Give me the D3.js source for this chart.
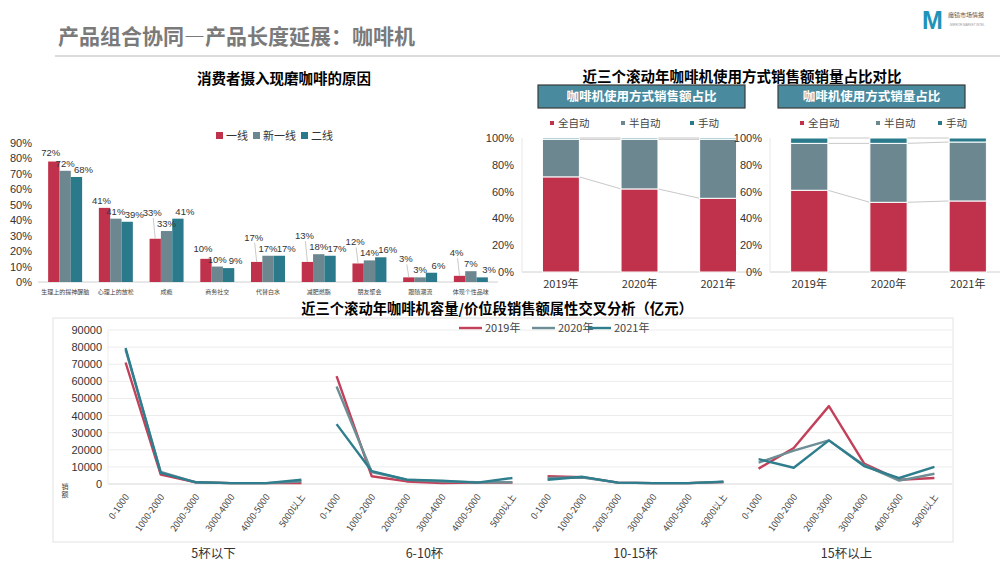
<!doctype html>
<html lang="zh">

<head>
    <meta charset="utf-8">
    <title>咖啡机 - 产品长度延展</title>
    <script src="https://cdnjs.cloudflare.com/ajax/libs/d3/7.8.5/d3.min.js"></script>
    <style>
        body {
            margin: 0;
            background: #ffffff;
        }

        svg {
            font-family: "Liberation Sans", "Noto Sans CJK SC", sans-serif;
        }

        .cjk {
            font-family: "Noto Sans CJK SC", sans-serif;
        }
    </style>
</head>

<body>
    <svg></svg>
    <script>
        var width = 1000;
        var height = 563;

        var red = "#c0324b";
        var gray = "#6c8790";
        var teal = "#2b7a8c";

        // ---- left chart: reasons ----
        var reasons = ["生理上的提神醒脑", "心理上的放松", "成瘾", "商务社交", "代替白水", "减肥燃脂", "朋友聚会", "跟随潮流", "体现个性品味"];
        var tiers = ["一线", "新一线", "二线"];
        var tier1 = [78, 48, 28, 15, 13, 13, 12, 3, 4];
        var tierNew1 = [72, 41, 33, 10, 17, 18, 14, 3, 7];
        var tier2 = [68, 39, 41, 9, 17, 17, 16, 6, 3];
        var labels1 = ["72%", "41%", "33%", "10%", "17%", "13%", "12%", "3%", "4%"];
        var labelsNew1 = ["72%", "41%", "33%", "10%", "17%", "18%", "14%", "3%", "7%"];
        var labels2 = ["68%", "39%", "41%", "9%", "17%", "17%", "16%", "6%", "3%"];
        var reasonTicks = [0, 10, 20, 30, 40, 50, 60, 70, 80, 90];

        // ---- right charts: usage share ----
        var years = ["2019年", "2020年", "2021年"];
        var usage = ["全自动", "半自动", "手动"];
        var salesAuto = [71, 62, 55];
        var salesSemi = [28, 37, 44];
        var salesManual = [1, 1, 1];
        var volAuto = [61, 52, 53];
        var volSemi = [35, 44, 44];
        var volManual = [4, 4, 3];
        var shareTicks = [0, 20, 40, 60, 80, 100];

        // ---- bottom chart: capacity x price band ----
        var capacities = ["5杯以下", "6-10杯", "10-15杯", "15杯以上"];
        var priceBands = ["0-1000", "1000-2000", "2000-3000", "3000-4000", "4000-5000", "5000以上"];
        var lineYears = ["2019年", "2020年", "2021年"];
        var sales2019 = [[71000, 5500, 1000, 500, 500, 500], [63000, 4500, 1500, 500, 800, 800], [4500, 4000, 800, 500, 500, 1200], [9000, 21000, 45500, 12000, 2500, 3500]];
        var sales2020 = [[78500, 7000, 1000, 500, 500, 1500], [57000, 7000, 2500, 1500, 1000, 1000], [3500, 3800, 800, 500, 500, 1200], [12500, 19500, 25500, 11000, 2000, 6000]];
        var sales2021 = [[79500, 6500, 1000, 500, 500, 2500], [35000, 7500, 2500, 2000, 800, 3500], [2500, 4200, 800, 500, 500, 1400], [14500, 9500, 25500, 10500, 3500, 10000]];
        var salesTicks = d3.range(0, 90001, 10000);

        var svg = d3.select("svg").attr("width", width).attr("height", height);

        // page title + rule
        svg.append("text")
            .attr("class", "cjk")
            .attr("x", 58).attr("y", 44)
            .attr("font-size", "21px").attr("font-weight", "bold")
            .attr("fill", "#7a7a7a")
            .text("产品组合协同—产品长度延展：咖啡机");
        svg.append("line")
            .attr("x1", 55).attr("x2", 1000).attr("y1", 56).attr("y2", 56)
            .attr("stroke", "#dcdcdc").attr("stroke-width", 2);

        // logo
        svg.append("text")
            .attr("x", 922).attr("y", 29)
            .attr("font-size", "25px").attr("font-weight", "bold")
            .attr("fill", "#1f93b8")
            .text("M");
        svg.append("text")
            .attr("class", "cjk")
            .attr("x", 948).attr("y", 17)
            .attr("font-size", "6px").attr("fill", "#555")
            .text("魔镜市场情报");
        svg.append("text")
            .attr("x", 950).attr("y", 26)
            .attr("font-size", "3px").attr("fill", "#999")
            .text("MIRROR MARKET INTEL");

        /* ================= left grouped bars ================= */
        svg.append("text")
            .attr("class", "cjk")
            .attr("x", 284).attr("y", 84)
            .attr("text-anchor", "middle")
            .attr("font-size", "14.5px").attr("font-weight", "bold")
            .text("消费者摄入现磨咖啡的原因");

        var x0 = d3.scaleBand().domain(reasons).range([38, 498]).paddingInner(0.33).paddingOuter(0.2);
        var x1 = d3.scaleBand().domain(tiers).range([0, x0.bandwidth()]);
        var yR = d3.scaleLinear().domain([0, 90]).range([282, 143]);
        var tierColor = d3.scaleOrdinal().domain(tiers).range([red, gray, teal]);

        var reasonRows = reasons.map(function (r, i) {
            var vals = [
                { tier: tiers[0], v: tier1[i], label: labels1[i] },
                { tier: tiers[1], v: tierNew1[i], label: labelsNew1[i] },
                { tier: tiers[2], v: tier2[i], label: labels2[i] }
            ];
            // label heights: above the bar, red one lifted clear of the gray one
            vals.forEach(function (d) { d.ly = yR(d.v) - 4; });
            if (vals[0].ly > vals[1].ly - 11) vals[0].ly = vals[1].ly - 11;
            return { reason: r, vals: vals };
        });

        var yAxisR = svg.append("g")
            .attr("transform", "translate(36,0)")
            .call(d3.axisLeft(yR).tickValues(reasonTicks).tickSize(0).tickPadding(4)
                .tickFormat(function (d) { return d + "%"; }));
        yAxisR.select(".domain").remove();
        yAxisR.selectAll("text").attr("font-size", "11px").attr("fill", "#333")
            .attr("font-family", "Liberation Sans, sans-serif");

        svg.append("line")
            .attr("x1", 38).attr("x2", 498).attr("y1", yR(0)).attr("y2", yR(0))
            .attr("stroke", "#d0d0d0");

        var groups = svg.selectAll("g.reason")
            .data(reasonRows)
            .enter()
            .append("g")
            .attr("class", "reason")
            .attr("transform", function (d) { return "translate(" + x0(d.reason) + ",0)"; });

        groups.selectAll("rect")
            .data(function (d) { return d.vals; })
            .enter()
            .append("rect")
            .attr("x", function (d) { return x1(d.tier); })
            .attr("y", function (d) { return yR(d.v); })
            .attr("width", x1.bandwidth())
            .attr("height", function (d) { return yR(0) - yR(d.v); })
            .attr("fill", function (d) { return tierColor(d.tier); });

        // thin leader line where the red label was lifted
        groups.selectAll("line.lead")
            .data(function (d) { return d.vals.filter(function (v) { return v.tier === tiers[0] && yR(v.v) - v.ly > 10; }); })
            .enter()
            .append("line")
            .attr("class", "lead")
            .attr("x1", function (d) { return x1(d.tier) + x1.bandwidth() / 2 - 2; })
            .attr("x2", function (d) { return x1(d.tier) + x1.bandwidth() / 2; })
            .attr("y1", function (d) { return d.ly + 2; })
            .attr("y2", function (d) { return yR(d.v); })
            .attr("stroke", "#bbb").attr("stroke-width", 0.8);

        var labelShift = { "一线": -3, "新一线": 0, "二线": 7 };
        groups.selectAll("text.val")
            .data(function (d) { return d.vals; })
            .enter()
            .append("text")
            .attr("class", "val")
            .attr("x", function (d) { return x1(d.tier) + x1.bandwidth() / 2 + labelShift[d.tier]; })
            .attr("y", function (d) { return d.ly; })
            .attr("text-anchor", "middle")
            .attr("font-size", "9.5px")
            .attr("fill", "#333")
            .text(function (d) { return d.label; });

        svg.selectAll("text.cat")
            .data(reasons)
            .enter()
            .append("text")
            .attr("class", "cat cjk")
            .attr("x", function (d) { return x0(d) + x0.bandwidth() / 2; })
            .attr("y", 294)
            .attr("text-anchor", "middle")
            .attr("font-size", "6px")
            .attr("fill", "#444")
            .text(function (d) { return d; });

        // legend
        var legL = svg.selectAll("g.legL")
            .data(tiers)
            .enter()
            .append("g")
            .attr("class", "legL")
            .attr("transform", function (d, i) { return "translate(" + [216, 253, 301][i] + ",130)"; });
        legL.append("rect").attr("width", 7).attr("height", 7).attr("y", 2)
            .attr("fill", function (d) { return tierColor(d); });
        legL.append("text").attr("class", "cjk").attr("x", 10).attr("y", 9.5)
            .attr("font-size", "11px").attr("fill", "#333")
            .text(function (d) { return d; });

        /* ================= right stacked bars ================= */
        svg.append("text")
            .attr("class", "cjk")
            .attr("x", 742).attr("y", 82)
            .attr("text-anchor", "middle")
            .attr("font-size", "14.5px").attr("font-weight", "bold")
            .text("近三个滚动年咖啡机使用方式销售额销量占比对比");

        var usageColor = d3.scaleOrdinal().domain(usage).range([red, gray, teal]);

        function drawStack(title, box, range, labelX, legX, auto, semi, manual) {
            svg.append("rect")
                .attr("x", box[0]).attr("y", 85)
                .attr("width", box[1] - box[0]).attr("height", 23)
                .attr("fill", "#4a8a9e").attr("stroke", "#3a3a3a").attr("stroke-width", 1.2);
            svg.append("text")
                .attr("class", "cjk")
                .attr("x", (box[0] + box[1]) / 2).attr("y", 101)
                .attr("text-anchor", "middle")
                .attr("font-size", "12.5px").attr("font-weight", "bold")
                .attr("fill", "#ffffff")
                .text(title);

            var rows = years.map(function (y, i) {
                return { year: y, "全自动": auto[i], "半自动": semi[i], "手动": manual[i] };
            });
            var series = d3.stack().keys(usage)(rows);

            var x = d3.scaleBand().domain(years).range(range).paddingInner(0.53).paddingOuter(0.26);
            var y = d3.scaleLinear().domain([0, 100]).range([272, 138]);

            var ax = svg.append("g")
                .attr("transform", "translate(" + labelX + ",0)")
                .call(d3.axisLeft(y).tickValues(shareTicks).tickSize(0).tickPadding(0)
                    .tickFormat(function (d) { return d + "%"; }));
            ax.select(".domain").remove();
            ax.selectAll("text").attr("font-size", "11px").attr("fill", "#333");

            svg.append("line")
                .attr("x1", range[0]).attr("x2", range[1]).attr("y1", y(0)).attr("y2", y(0))
                .attr("stroke", "#d0d0d0");
            svg.append("line")
                .attr("x1", range[0]).attr("x2", range[0]).attr("y1", y(0)).attr("y2", y(100))
                .attr("stroke", "#e6e6e6");

            // series lines between bars
            series.forEach(function (s) {
                for (var i = 0; i < years.length - 1; i++) {
                    svg.append("line")
                        .attr("x1", x(years[i]) + x.bandwidth())
                        .attr("x2", x(years[i + 1]))
                        .attr("y1", y(s[i][1]))
                        .attr("y2", y(s[i + 1][1]))
                        .attr("stroke", "#c8c8c8").attr("stroke-width", 1);
                }
            });

            svg.append("g")
                .selectAll("g")
                .data(series)
                .enter()
                .append("g")
                .attr("fill", function (d) { return usageColor(d.key); })
                .selectAll("rect")
                .data(function (d) { return d; })
                .enter()
                .append("rect")
                .attr("x", function (d) { return x(d.data.year); })
                .attr("y", function (d) { return y(d[1]); })
                .attr("width", x.bandwidth())
                .attr("height", function (d) { return y(d[0]) - y(d[1]); })
                .attr("stroke", "#ffffff").attr("stroke-width", 1);

            svg.selectAll(null)
                .data(years)
                .enter()
                .append("text")
                .attr("class", "cjk")
                .attr("x", function (d) { return x(d) + x.bandwidth() / 2; })
                .attr("y", 288)
                .attr("text-anchor", "middle")
                .attr("font-size", "11px").attr("fill", "#333")
                .text(function (d) { return d; });

            var leg = svg.selectAll(null)
                .data(usage)
                .enter()
                .append("g")
                .attr("transform", function (d, i) { return "translate(" + legX[i] + ",118)"; });
            leg.append("rect").attr("width", 4).attr("height", 4).attr("y", 3)
                .attr("fill", function (d) { return usageColor(d); });
            leg.append("text").attr("class", "cjk").attr("x", 8).attr("y", 9)
                .attr("font-size", "10.5px").attr("fill", "#444")
                .text(function (d) { return d; });
        }

        drawStack("咖啡机使用方式销售额占比", [538, 745], [522, 757], 514, [550, 621, 690], salesAuto, salesSemi, salesManual);
        drawStack("咖啡机使用方式销量占比", [778, 965], [770, 1007], 762, [800, 876, 938], volAuto, volSemi, volManual);

        /* ================= bottom line chart ================= */
        svg.append("text")
            .attr("class", "cjk")
            .attr("x", 497).attr("y", 314)
            .attr("text-anchor", "middle")
            .attr("font-size", "14.3px").attr("font-weight", "bold")
            .text("近三个滚动年咖啡机容量/价位段销售额属性交叉分析（亿元）");

        svg.append("rect")
            .attr("x", 53).attr("y", 318).attr("width", 900).attr("height", 224)
            .attr("fill", "none").attr("stroke", "#e2e2e2");

        var keys = [];
        capacities.forEach(function (c) {
            priceBands.forEach(function (p) { keys.push(c + "|" + p); });
        });
        var xL = d3.scalePoint().domain(keys).range([108, 952]).padding(0.5);
        var yL = d3.scaleLinear().domain([0, 90000]).range([484, 330]);
        var lineColor = d3.scaleOrdinal().domain(lineYears).range(["#c3405a", "#6d8e95", "#2e7e8d"]);

        svg.append("g")
            .selectAll("line")
            .data(salesTicks)
            .enter()
            .append("line")
            .attr("x1", 108).attr("x2", 952)
            .attr("y1", function (d) { return yL(d); })
            .attr("y2", function (d) { return yL(d); })
            .attr("stroke", function (d) { return d === 0 ? "#d6d6d6" : "#ececec"; });
        svg.append("line")
            .attr("x1", 108).attr("x2", 108).attr("y1", yL(0)).attr("y2", yL(90000))
            .attr("stroke", "#ececec");

        var axL = svg.append("g")
            .attr("transform", "translate(102,0)")
            .call(d3.axisLeft(yL).tickValues(salesTicks).tickSize(0).tickPadding(0)
                .tickFormat(d3.format("d")));
        axL.select(".domain").remove();
        axL.selectAll("text").attr("font-size", "11px").attr("fill", "#333");

        svg.append("text")
            .attr("class", "cjk")
            .attr("x", 65).attr("y", 489)
            .attr("text-anchor", "middle")
            .attr("font-size", "7px").attr("fill", "#444")
            .text("销");
        svg.append("text")
            .attr("class", "cjk")
            .attr("x", 65).attr("y", 497)
            .attr("text-anchor", "middle")
            .attr("font-size", "7px").attr("fill", "#444")
            .text("额");

        var lineData = [
            { year: lineYears[0], vals: sales2019 },
            { year: lineYears[1], vals: sales2020 },
            { year: lineYears[2], vals: sales2021 }
        ];
        var line = d3.line()
            .x(function (d) { return xL(d.key); })
            .y(function (d) { return yL(d.v); });

        lineData.forEach(function (s) {
            capacities.forEach(function (c, ci) {
                var pts = priceBands.map(function (p, pi) {
                    return { key: c + "|" + p, v: s.vals[ci][pi] };
                });
                svg.append("path")
                    .datum(pts)
                    .attr("d", line)
                    .attr("fill", "none")
                    .attr("stroke", lineColor(s.year))
                    .attr("stroke-width", 2.4)
                    .attr("stroke-linejoin", "round");
            });
        });

        // rotated price band labels
        svg.selectAll("text.band")
            .data(keys)
            .enter()
            .append("text")
            .attr("class", "band cjk")
            .attr("text-anchor", "end")
            .attr("font-size", "9px")
            .attr("fill", "#444")
            .attr("transform", function (d) { return "translate(" + (xL(d) + 4) + ",497) rotate(-55)"; })
            .text(function (d) { return d.split("|")[1]; });

        svg.selectAll("text.capacity")
            .data(capacities)
            .enter()
            .append("text")
            .attr("class", "capacity cjk")
            .attr("x", function (c) {
                return (xL(c + "|" + priceBands[0]) + xL(c + "|" + priceBands[5])) / 2;
            })
            .attr("y", 558)
            .attr("text-anchor", "middle")
            .attr("font-size", "12.5px").attr("fill", "#333")
            .text(function (d) { return d; });

        var legB = svg.selectAll("g.legB")
            .data(lineYears)
            .enter()
            .append("g")
            .attr("class", "legB")
            .attr("transform", function (d, i) { return "translate(" + [459, 532, 588][i] + ",328)"; });
        legB.append("line").attr("x1", 0).attr("x2", 23)
            .attr("stroke", function (d) { return lineColor(d); }).attr("stroke-width", 2.4);
        legB.append("text").attr("class", "cjk").attr("x", 26).attr("y", 4)
            .attr("font-size", "11px").attr("fill", "#444")
            .text(function (d) { return d; });
    </script>

</body>

</html>
